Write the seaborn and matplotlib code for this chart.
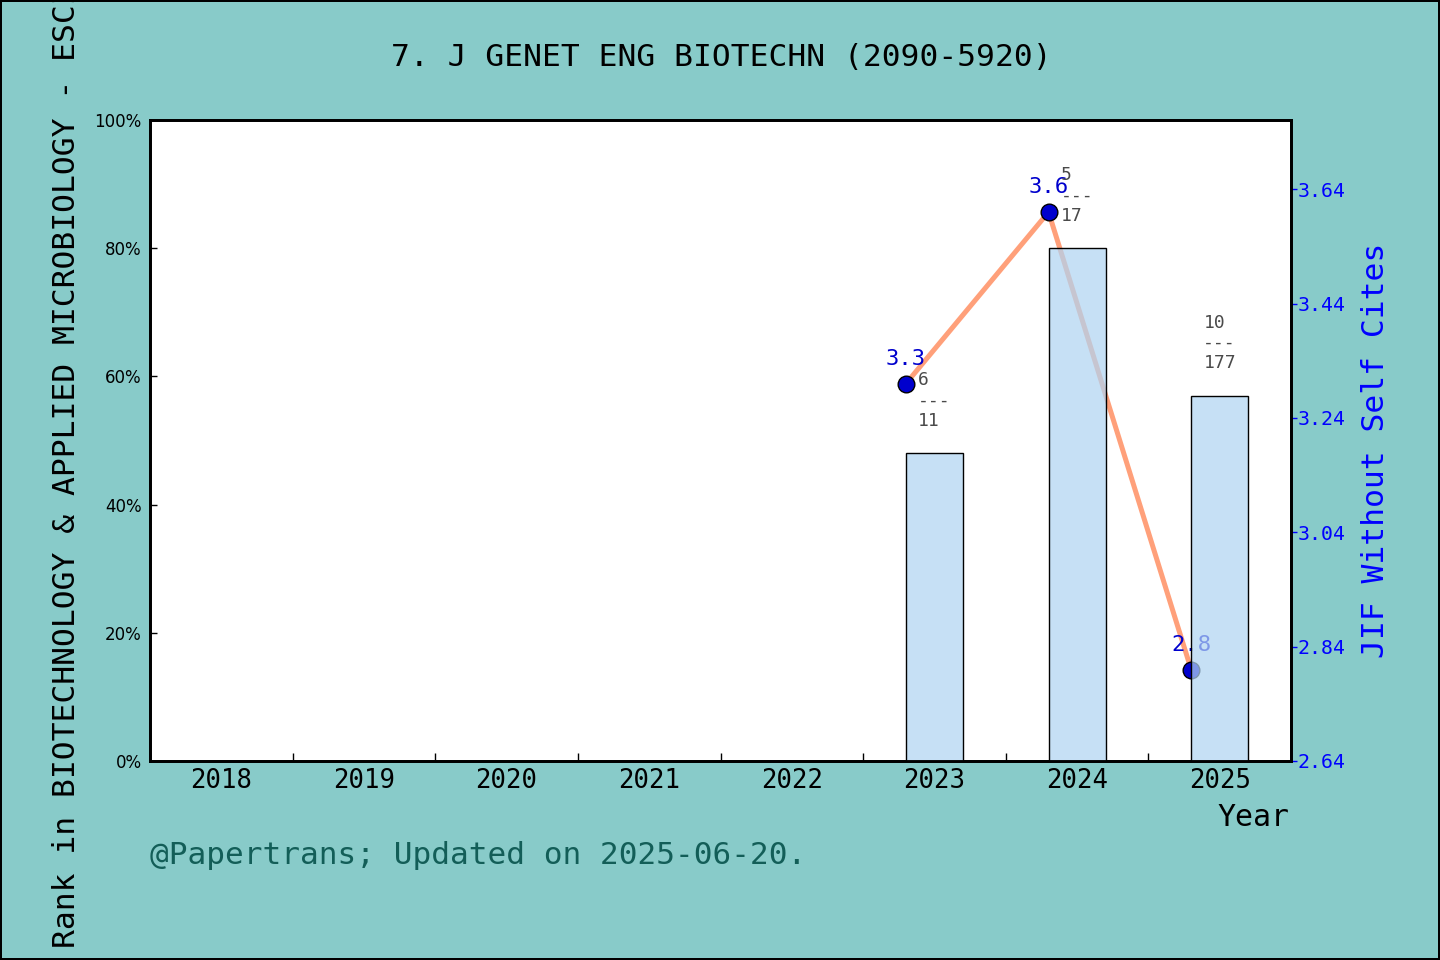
import numpy as np
import pandas as pd
import matplotlib
matplotlib.use("Agg")
import matplotlib.pyplot as plt
import seaborn as sns

# ---- data ----
years = ["2018", "2019", "2020", "2021", "2022", "2023", "2024", "2025"]
bar_years = ["2023", "2024", "2025"]
bar_pct = [48.0, 80.0, 57.0]
rank_num = [6, 5, 10]
rank_den = [11, 17, 177]
jif_years = ["2023", "2024", "2025"]
jif_vals = [3.3, 3.6, 2.8]
right_ticks = [2.64, 2.84, 3.04, 3.24, 3.44, 3.64]
left_ticks = [0, 20, 40, 60, 80, 100]

title = "7. J GENET ENG BIOTECHN (2090-5920)"
left_label = "Rank in BIOTECHNOLOGY & APPLIED MICROBIOLOGY - ESCI"
right_label = "JIF Without Self Cites"
footer = "@Papertrans; Updated on 2025-06-20."

# ---- style ----
sns.set_style("white")
plt.rcParams["font.family"] = ["DejaVu Sans"]
plt.rcParams["text.color"] = "black"
plt.rcParams["axes.labelcolor"] = "black"
plt.rcParams["xtick.color"] = "black"
plt.rcParams["ytick.color"] = "black"
BG = "#88CBC9"
MONO = "DejaVu Sans Mono"
BAR_RGB = (176 / 255, 212 / 255, 242 / 255)

fig = plt.figure(figsize=(14.4, 9.6), dpi=100, facecolor=BG,
                 edgecolor="black", linewidth=1.5)
ax = fig.add_axes([150 / 1440, 1 - 761 / 960, (1291 - 150) / 1440, (761 - 120) / 960])
ax2 = ax.twinx()
ax.set_zorder(2)
ax2.set_zorder(1)
ax.patch.set_visible(False)
ax2.patch.set_visible(True)
ax2.patch.set_facecolor("white")

# bars (percent axis)
bar_df = pd.DataFrame({"year": bar_years, "pct": bar_pct})
sns.barplot(data=bar_df, x="year", y="pct", order=years, width=0.4,
            color=BAR_RGB, saturation=1,
            edgecolor="black", linewidth=1, ax=ax, errorbar=None)
for p in ax.patches:
    p.set_alpha(None)
    p.set_facecolor((*BAR_RGB, 0.72))
    p.set_edgecolor((0, 0, 0, 1))

# line (JIF axis)
jif_x = [years.index(y) - 0.2 for y in jif_years]
sns.lineplot(x=jif_x, y=jif_vals, ax=ax2, color="#FFA07A", linewidth=3.6,
             marker="o", markersize=12, markerfacecolor="#0000CD",
             markeredgecolor="black", markeredgewidth=1, legend=False)

for x, v in zip(jif_x, jif_vals):
    ax2.annotate(f"{v}", (x, v), xytext=(0, 18), textcoords="offset points",
                 ha="center", va="center", color="#0000CD", fontsize=16,
                 family=MONO)

for y, p, r, n in zip(bar_years, bar_pct, rank_num, rank_den):
    ax.annotate(f"{r}\n---\n{n}", (years.index(y), p), xytext=(0, 38),
                textcoords="offset points", ha="center", va="center",
                multialignment="left", color="#4A4A4A", fontsize=13,
                family=MONO, linespacing=1.15)

# axes setup
ax.set_xlim(-0.5, 7.5)
ax.set_ylim(0, 100)
ax2.set_ylim(2.64, 3.761)
ax.set_xlabel("")
ax.set_ylabel("")
ax2.set_xlabel("")
ax2.set_ylabel("")

ax.set_xticks(range(len(years)))
ax.set_xticklabels(years)
ax.set_xticks(np.arange(0.5, len(years) - 1, 1), minor=True)
ax.tick_params(axis="x", which="major", length=0, labelsize=18.5, pad=5,
               labelcolor="black")
ax.tick_params(axis="x", which="minor", direction="in", length=6, width=1,
               color="black", bottom=True)
ax.set_yticks(left_ticks)
ax.set_yticklabels([f"{t}%" for t in left_ticks])
ax.tick_params(axis="y", direction="in", length=5, width=1, labelsize=12,
               pad=6, color="black", labelcolor="black", left=True)

ax2.set_yticks(right_ticks)
ax2.set_yticklabels([f"{t:.2f}" for t in right_ticks])
ax2.tick_params(axis="y", direction="out", length=4, width=1, colors="blue",
                labelsize=14.3, pad=1, right=True)
for lbl in ax2.get_yticklabels():
    lbl.set_family(MONO)
for lbl in ax.get_xticklabels():
    lbl.set_family(MONO)

for a in (ax, ax2):
    for s in a.spines.values():
        s.set_color("black")
        s.set_linewidth(2)
        s.set_visible(True)

# texts
fig.text(721 / 1440, 1 - 57 / 960, title, ha="center", va="center",
         fontsize=22.5, family=MONO, color="black")
fig.text(67 / 1440, 1 - 948 / 960, left_label, rotation=90, ha="center",
         va="bottom", fontsize=22.6, family=MONO, color="black")
fig.text(1375 / 1440, 1 - 450 / 960, right_label, rotation=90, ha="center",
         va="center", fontsize=22.6, family=MONO, color="blue")
fig.text(1253 / 1440, 1 - 817 / 960, "Year", ha="center", va="center",
         fontsize=21.5, family=MONO, color="black")
fig.text(150 / 1440, 1 - 855 / 960, footer, ha="left", va="center",
         fontsize=22.4, family=MONO, color="#135E58")

fig.savefig("out.png", dpi=100, facecolor=BG, edgecolor="black")
